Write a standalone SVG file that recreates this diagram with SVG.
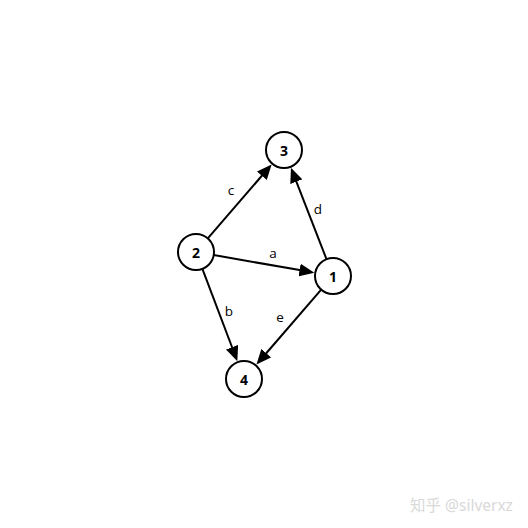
<svg xmlns="http://www.w3.org/2000/svg" width="528" height="528" viewBox="0 0 528 528">
<style>
.node circle{fill:#fff;stroke:#000;stroke-width:2}
.node text{font-family:"Open Sans","Noto Sans",sans-serif;font-weight:bold;font-size:14px;text-anchor:middle;dominant-baseline:central;fill:#000}
.edge line{stroke:#000;stroke-width:2}
.lbl{font-family:"Open Sans","Noto Sans",sans-serif;font-size:13.5px;text-anchor:middle;dominant-baseline:central;fill:#000}
.wm{font-family:"Noto Sans","Noto Sans CJK SC",sans-serif;font-size:15.5px;fill:#d9d9d9}
</style>
<defs>
<marker id="arr" viewBox="0 0 15 13" markerWidth="15" markerHeight="13" refX="3" refY="6.5" markerUnits="userSpaceOnUse" orient="auto">
<path d="M0,0 L15,6.5 L0,13 z" fill="#000"/>
</marker>
</defs>
<rect width="528" height="528" fill="#fff"/>
<g id="connectors">
<g class="edge" id="edge-c"><line x1="207.8" y1="238.4" x2="263.8" y2="173.5" marker-end="url(#arr)"/><text class="lbl" x="231" y="190">c</text></g>
<g class="edge" id="edge-a"><line x1="213.7" y1="255.1" x2="302.5" y2="270.6" marker-end="url(#arr)"/><text class="lbl" x="273" y="253">a</text></g>
<g class="edge" id="edge-d"><line x1="326.5" y1="259.2" x2="295.3" y2="178.9" marker-end="url(#arr)"/><text class="lbl" x="318" y="209">d</text></g>
<g class="edge" id="edge-b"><line x1="202.4" y1="268.8" x2="233.1" y2="350.0" marker-end="url(#arr)"/><text class="lbl" x="229" y="311">b</text></g>
<g class="edge" id="edge-e"><line x1="321.2" y1="289.6" x2="264.3" y2="355.5" marker-end="url(#arr)"/><text class="lbl" x="280" y="317">e</text></g>
</g>
<g class="node" id="node-3"><circle cx="284" cy="150" r="18"/><text x="284" y="150">3</text></g>
<g class="node" id="node-2"><circle cx="196" cy="252" r="18"/><text x="196" y="252">2</text></g>
<g class="node" id="node-1"><circle cx="333" cy="276" r="18"/><text x="333" y="276">1</text></g>
<g class="node" id="node-4"><circle cx="244" cy="379" r="18"/><text x="244" y="379">4</text></g>
<text class="wm" x="410" y="511">知乎 @silverxz</text>
</svg>
